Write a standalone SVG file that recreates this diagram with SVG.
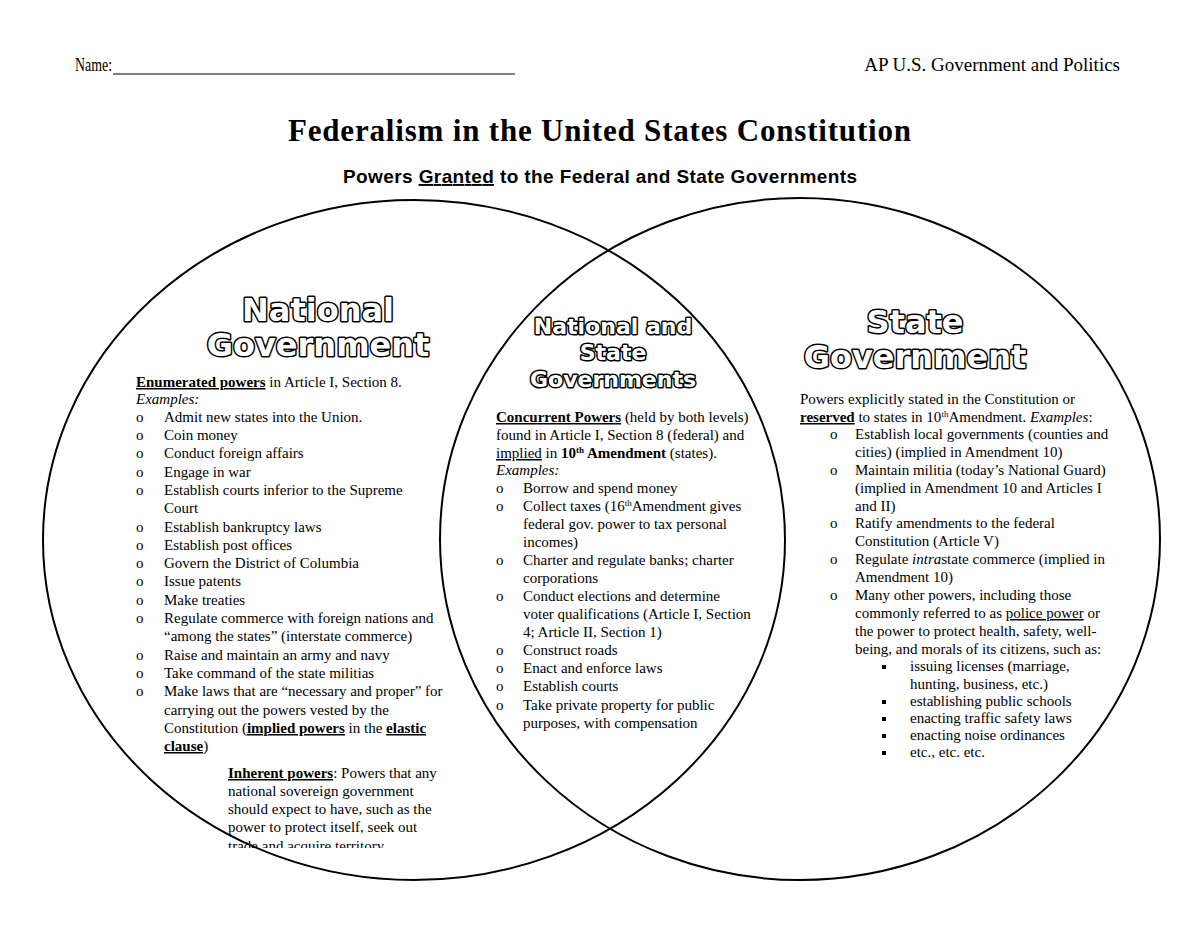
<svg xmlns="http://www.w3.org/2000/svg" width="1200" height="927" viewBox="0 0 1200 927">
<style>
.hdr{font-family:"Liberation Serif",serif;font-size:19px;fill:#000}
.title{font-family:"Liberation Serif",serif;font-size:31px;font-weight:bold;fill:#000}
.sub{font-family:"Liberation Sans",Arial,sans-serif;font-size:19px;font-weight:bold;fill:#000}
.out{font-family:"DejaVu Sans",sans-serif;font-weight:bold;fill:#fff;stroke:#000;stroke-width:3;stroke-linejoin:round;text-anchor:middle;paint-order:stroke}
.t{font-family:"Liberation Serif",serif;font-size:15px;fill:#000}
.b{font-weight:bold}
.u{text-decoration:underline}
.i{font-style:italic}
.circ{fill:none;stroke:#000;stroke-width:2}
.sq{fill:#000}
</style>
<defs>
<clipPath id="clipBottom"><rect x="0" y="0" width="1200" height="848"/></clipPath>
</defs>
<rect width="1200" height="927" fill="#fff"/>

<g id="header">
<text class="hdr" x="75" y="71" font-size="17" textLength="37" lengthAdjust="spacingAndGlyphs">Name:</text>
<line x1="113" y1="74" x2="515" y2="74" stroke="#000" stroke-width="1.2"/>
<text class="hdr" x="1120" y="71" text-anchor="end">AP U.S. Government and Politics</text>
<text class="title" x="288" y="141" textLength="623">Federalism in the United States Constitution</text>
<text class="sub" x="343" y="183" textLength="514">Powers <tspan class="u">Granted</tspan> to the Federal and State Governments</text>
</g>

<g id="national">
<ellipse class="circ" cx="414" cy="540" rx="371" ry="340"/>
<text class="out" font-size="32"><tspan x="318" y="321">National</tspan><tspan x="318" y="356">Government</tspan></text>
<g class="t">
<text x="136" y="387"><tspan class="b u">Enumerated powers</tspan> in Article I, Section 8.</text>
<text x="136" y="404" class="i">Examples:</text>
<text x="136" y="422">o</text><text x="164" y="422">Admit new states into the Union.</text>
<text x="136" y="440">o</text><text x="164" y="440">Coin money</text>
<text x="136" y="458">o</text><text x="164" y="458">Conduct foreign affairs</text>
<text x="136" y="477">o</text><text x="164" y="477">Engage in war</text>
<text x="136" y="495">o</text><text x="164" y="495">Establish courts inferior to the Supreme</text>
<text x="164" y="513">Court</text>
<text x="136" y="532">o</text><text x="164" y="532">Establish bankruptcy laws</text>
<text x="136" y="550">o</text><text x="164" y="550">Establish post offices</text>
<text x="136" y="568">o</text><text x="164" y="568">Govern the District of Columbia</text>
<text x="136" y="586">o</text><text x="164" y="586">Issue patents</text>
<text x="136" y="605">o</text><text x="164" y="605">Make treaties</text>
<text x="136" y="623">o</text><text x="164" y="623">Regulate commerce with foreign nations and</text>
<text x="164" y="641">“among the states” (interstate commerce)</text>
<text x="136" y="660">o</text><text x="164" y="660">Raise and maintain an army and navy</text>
<text x="136" y="678">o</text><text x="164" y="678">Take command of the state militias</text>
<text x="136" y="696">o</text><text x="164" y="696">Make laws that are “necessary and proper” for</text>
<text x="164" y="715">carrying out the powers vested by the</text>
<text x="164" y="733">Constitution (<tspan class="b u">implied powers</tspan> in the <tspan class="b u">elastic </tspan></text>
<text x="164" y="751"><tspan class="b u">clause</tspan>)</text>
<g clip-path="url(#clipBottom)">
<text x="228" y="778"><tspan class="b u">Inherent powers</tspan>: Powers that any</text>
<text x="228" y="796">national  sovereign government</text>
<text x="228" y="814">should expect to have, such as the</text>
<text x="228" y="832">power to protect itself, seek out</text>
<text x="228" y="851">trade and acquire territory.</text>
</g>
</g>
</g>

<g id="state">
<ellipse class="circ" cx="800" cy="539" rx="360" ry="341"/>
<text class="out" font-size="32"><tspan x="915" y="333">State</tspan><tspan x="915" y="368">Government</tspan></text>
<g class="t">
<text x="800" y="404">Powers explicitly stated in the Constitution or</text>
<text x="800" y="422"><tspan class="b u">reserved</tspan> to states in 10<tspan font-size="9" dy="-5">th</tspan><tspan dy="5">Amendment. </tspan><tspan class="i">Examples</tspan>:</text>
<text x="830" y="439">o</text><text x="855" y="439">Establish local governments (counties and</text>
<text x="855" y="457">cities) (implied in Amendment 10)</text>
<text x="830" y="475">o</text><text x="855" y="475">Maintain militia (today’s National Guard)</text>
<text x="855" y="493">(implied in Amendment 10 and Articles I</text>
<text x="855" y="511">and II)</text>
<text x="830" y="528">o</text><text x="855" y="528">Ratify amendments to the federal</text>
<text x="855" y="546">Constitution (Article V)</text>
<text x="830" y="564">o</text><text x="855" y="564">Regulate <tspan class="i">intra</tspan>state commerce (implied in</text>
<text x="855" y="582">Amendment 10)</text>
<text x="830" y="600">o</text><text x="855" y="600">Many other powers, including those</text>
<text x="855" y="618">commonly referred to as <tspan class="u">police power</tspan> or</text>
<text x="855" y="636">the power to protect health, safety, well-</text>
<text x="855" y="654">being, and morals of its citizens, such as:</text>
<rect class="sq" x="882" y="665" width="4" height="4"/><text x="910" y="671">issuing licenses (marriage,</text>
<text x="910" y="689">hunting, business, etc.)</text>
<rect class="sq" x="882" y="700" width="4" height="4"/><text x="910" y="706">establishing public schools</text>
<rect class="sq" x="882" y="717" width="4" height="4"/><text x="910" y="723">enacting traffic safety laws</text>
<rect class="sq" x="882" y="734" width="4" height="4"/><text x="910" y="740">enacting noise ordinances</text>
<rect class="sq" x="882" y="751" width="4" height="4"/><text x="910" y="757">etc., etc. etc.</text>
</g>
</g>

<g id="both">
<text class="out" font-size="22"><tspan x="613" y="334">National and</tspan><tspan x="613" y="360">State</tspan><tspan x="613" y="387">Governments</tspan></text>
<g class="t">
<text x="496" y="422"><tspan class="b u">Concurrent Powers</tspan> (held by both levels)</text>
<text x="496" y="440">found in Article I, Section 8 (federal) and</text>
<text x="496" y="458"><tspan class="u">implied</tspan> in <tspan class="b">10</tspan><tspan class="b" font-size="9" dy="-5">th</tspan><tspan class="b" dy="5"> Amendment</tspan> (states).</text>
<text x="496" y="475" class="i">Examples:</text>
<text x="496" y="493">o</text><text x="523" y="493">Borrow and spend money</text>
<text x="496" y="511">o</text><text x="523" y="511">Collect taxes (16<tspan font-size="9" dy="-5">th</tspan><tspan dy="5">Amendment gives</tspan></text>
<text x="523" y="529">federal gov. power to tax personal</text>
<text x="523" y="547">incomes)</text>
<text x="496" y="565">o</text><text x="523" y="565">Charter and regulate banks; charter</text>
<text x="523" y="583">corporations</text>
<text x="496" y="601">o</text><text x="523" y="601">Conduct elections and determine</text>
<text x="523" y="619">voter qualifications (Article I, Section</text>
<text x="523" y="637">4; Article II, Section 1)</text>
<text x="496" y="655">o</text><text x="523" y="655">Construct roads</text>
<text x="496" y="673">o</text><text x="523" y="673">Enact and enforce laws</text>
<text x="496" y="691">o</text><text x="523" y="691">Establish courts</text>
<text x="496" y="710">o</text><text x="523" y="710">Take private property for public</text>
<text x="523" y="728">purposes, with compensation</text>
</g>
</g>
</svg>
